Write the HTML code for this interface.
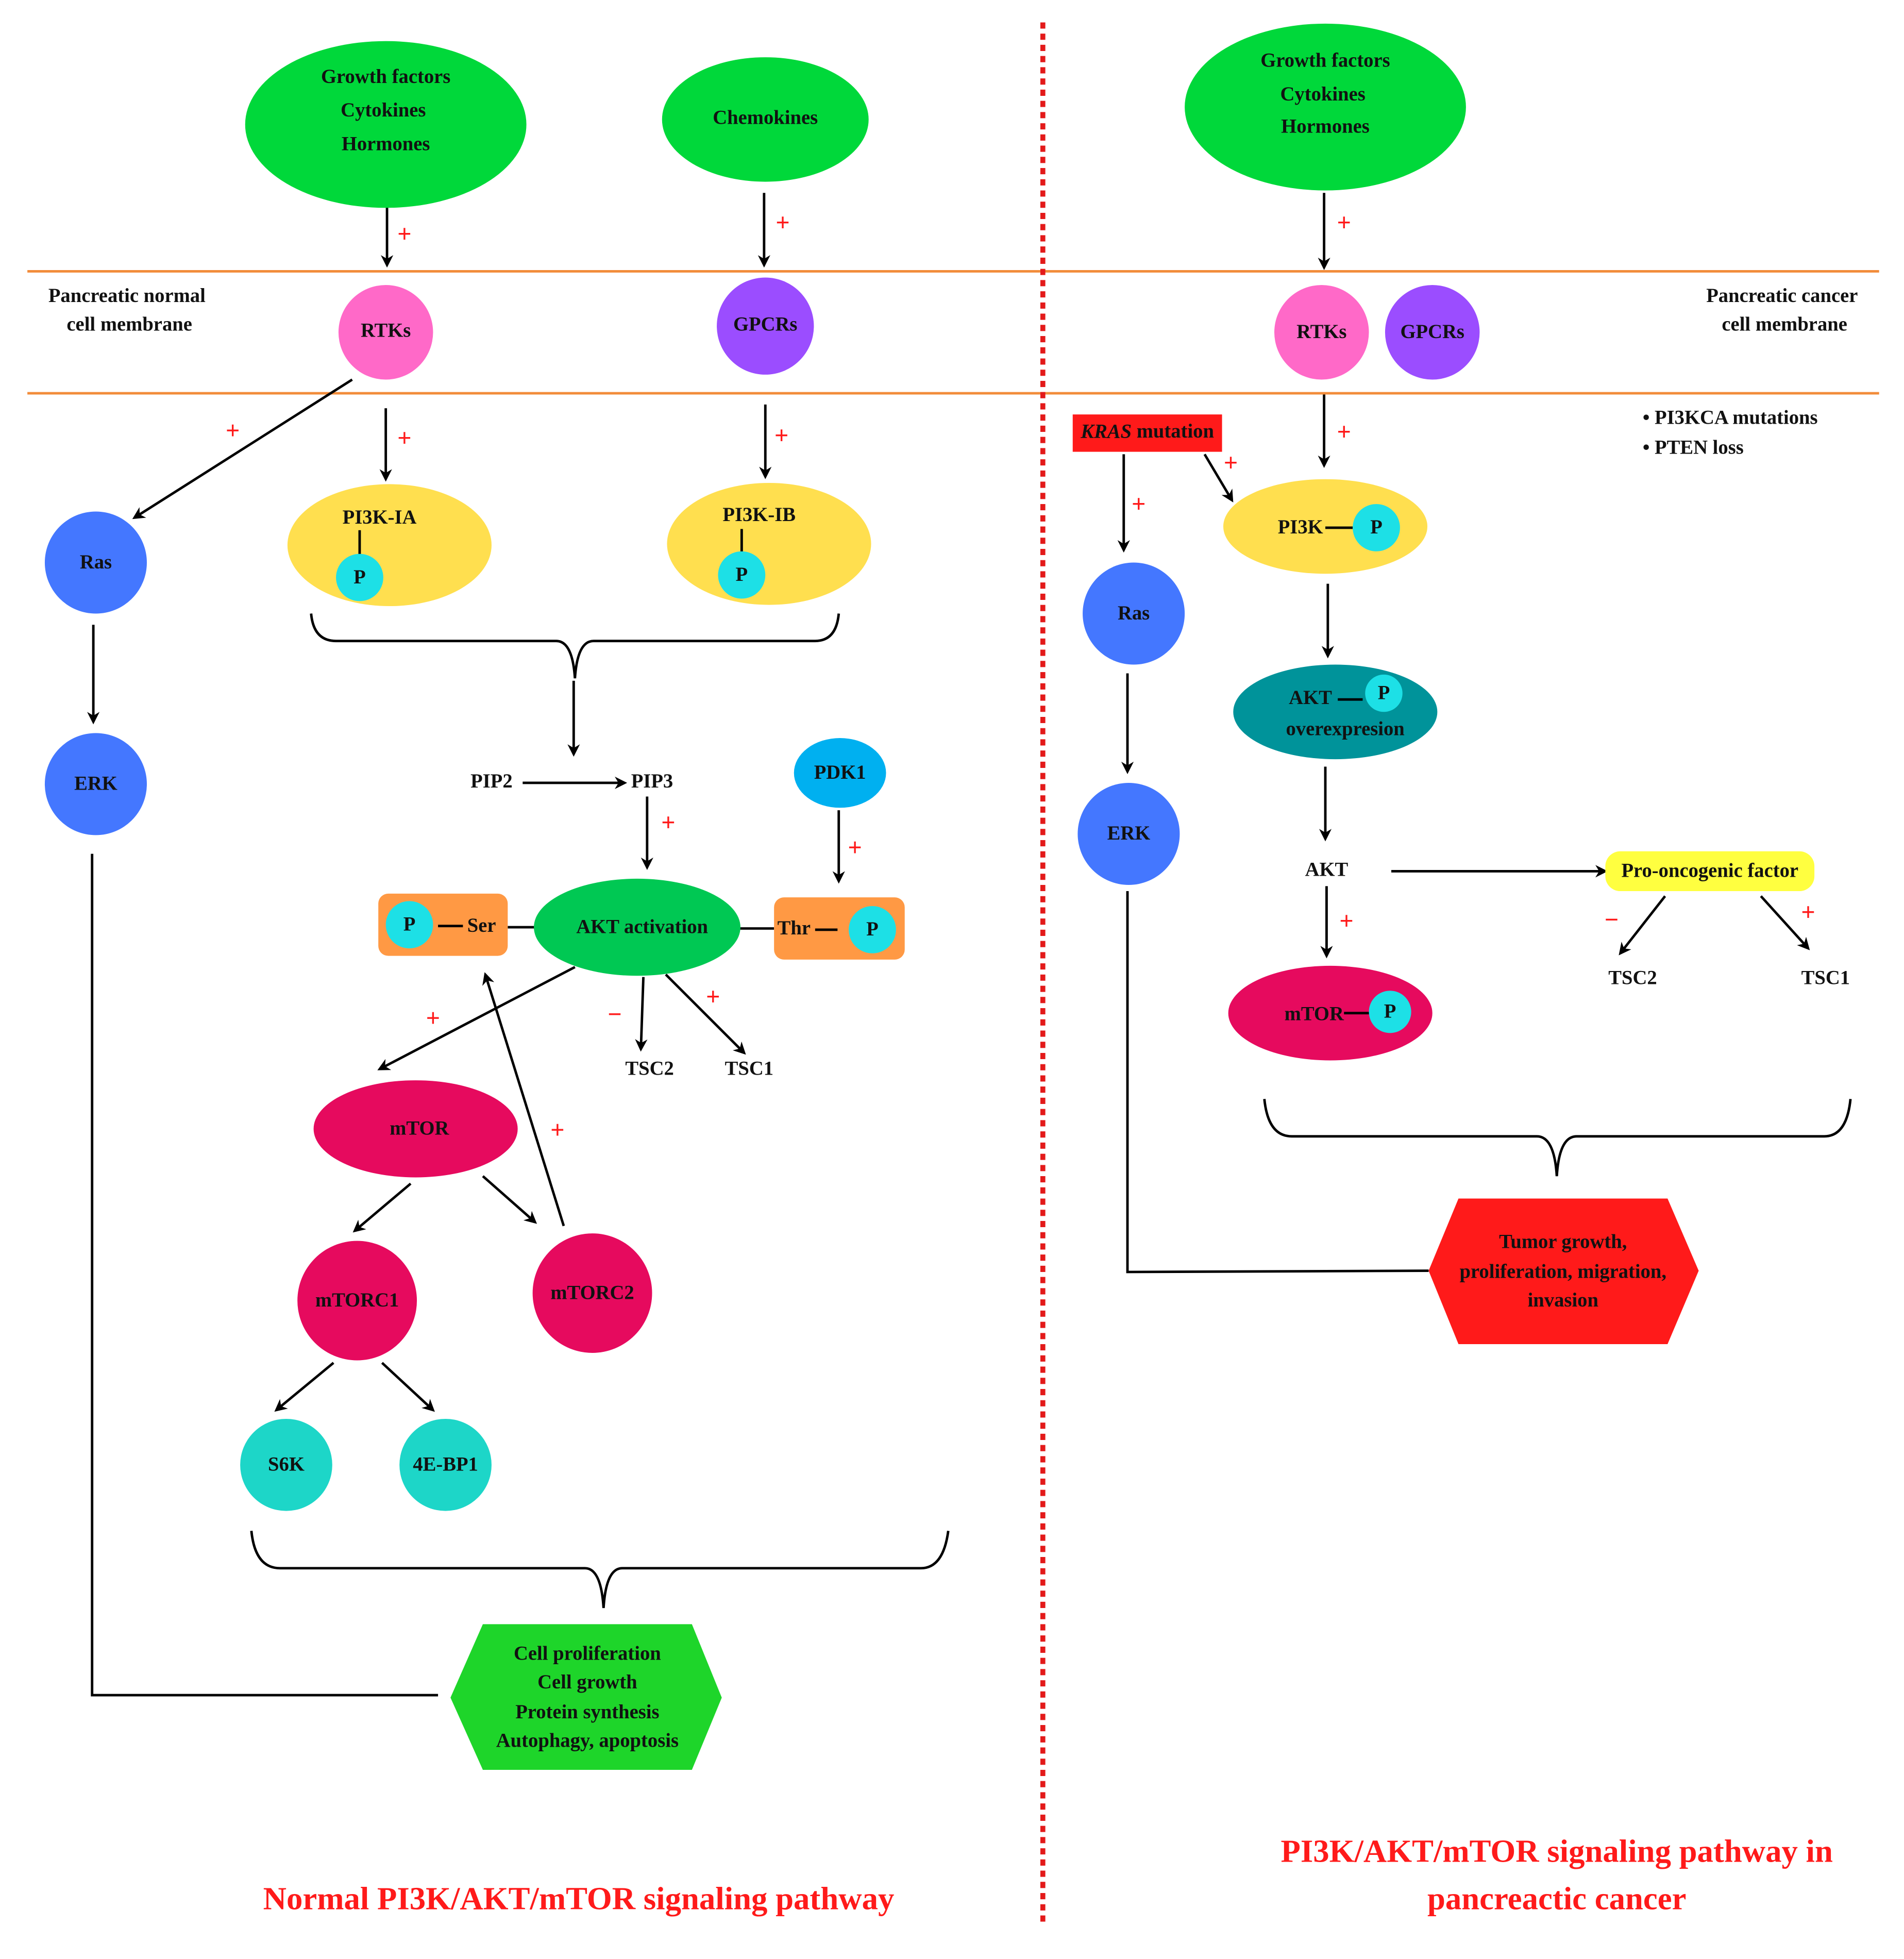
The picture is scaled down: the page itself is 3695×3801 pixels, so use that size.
<!DOCTYPE html>
<html><head><meta charset="utf-8"><style>
html,body{margin:0;padding:0;background:#fff;}
svg{display:block;}
text{font-family:"Liberation Serif",serif;font-weight:bold;font-size:16px;fill:#111;text-anchor:middle;dominant-baseline:middle;}
.r{fill:#ff1a1a;font-size:20px;}
.t{fill:#ff1a1a;font-size:26px;}
</style></head><body>
<svg width="3695" height="3801" viewBox="0 0 1530 1574" preserveAspectRatio="none" xmlns="http://www.w3.org/2000/svg">
<defs><marker id="a" markerWidth="10" markerHeight="10" refX="8" refY="5" orient="auto" markerUnits="userSpaceOnUse"><path d="M0,0 L10,5 L0,10 L3,5 z" fill="#000"/></marker></defs>
<rect width="1530" height="1574" fill="#fff"/>
<g stroke="#f28c3a" stroke-width="2"><line x1="22" y1="218" x2="1510" y2="218"/><line x1="22" y1="316" x2="1510" y2="316"/></g>
<line x1="838" y1="18" x2="838" y2="1545" stroke="#e31a1a" stroke-width="4" stroke-dasharray="5,4"/>

<g stroke="#000" stroke-width="2" fill="none" marker-end="url(#a)">
<line x1="311" y1="155" x2="311" y2="213"/><line x1="614" y1="155" x2="614" y2="213"/>
<line x1="283" y1="305" x2="108" y2="416"/><line x1="310" y1="328" x2="310" y2="385"/><line x1="615" y1="325" x2="615" y2="383"/>
<line x1="75" y1="502" x2="75" y2="580"/><line x1="461" y1="547" x2="461" y2="606"/>
<line x1="420" y1="629" x2="502" y2="629"/><line x1="674" y1="651" x2="674" y2="708"/><line x1="520" y1="640" x2="520" y2="697"/>
<line x1="462" y1="777" x2="305" y2="859"/><line x1="517" y1="785" x2="515" y2="843"/><line x1="535" y1="783" x2="598" y2="846"/>
<line x1="330" y1="951" x2="285" y2="989"/><line x1="388" y1="945" x2="430" y2="982"/><line x1="453" y1="985" x2="390" y2="783"/>
<line x1="268" y1="1095" x2="222" y2="1133"/><line x1="307" y1="1095" x2="348" y2="1133"/>
<line x1="1064" y1="155" x2="1064" y2="215"/><line x1="1064" y1="317" x2="1064" y2="374"/>
<line x1="903" y1="365" x2="903" y2="442"/><line x1="968" y1="365" x2="990" y2="402"/>
<line x1="906" y1="541" x2="906" y2="620"/><line x1="1067" y1="469" x2="1067" y2="527"/><line x1="1065" y1="616" x2="1065" y2="674"/>
<line x1="1118" y1="700" x2="1290" y2="700"/><line x1="1338" y1="720" x2="1302" y2="766"/><line x1="1415" y1="720" x2="1453" y2="762"/>
<line x1="1066" y1="712" x2="1066" y2="768"/>
</g>
<g stroke="#000" stroke-width="2" fill="none">
<path d="M250,493 Q252,515 270,515 L447,515 Q460,515 462,545 Q464,515 477,515 L655,515 Q672,515 674,493"/>
<path d="M202,1230 Q205,1260 225,1260 L470,1260 Q483,1260 485,1292 Q487,1260 500,1260 L740,1260 Q758,1260 762,1230"/>
<path d="M1016,883 Q1019,913 1038,913 L1235,913 Q1249,913 1251,945 Q1253,913 1267,913 L1466,913 Q1484,913 1487,883"/>
<polyline points="74,686 74,1362 352,1362"/>
<polyline points="906,716 906,1022 1148,1021"/>
<line x1="408" y1="745" x2="430" y2="745"/><line x1="594" y1="746" x2="622" y2="746"/>
</g>

<ellipse cx="310" cy="100" rx="113" ry="67" fill="#00d83a"/>
<text x="310" y="63">Growth factors</text><text x="308" y="90">Cytokines</text><text x="310" y="117">Hormones</text>
<ellipse cx="615" cy="96" rx="83" ry="50" fill="#00d83a"/><text x="615" y="96">Chemokines</text>
<circle cx="310" cy="267" r="38" fill="#ff69c8"/><text x="310" y="267">RTKs</text>
<circle cx="615" cy="262" r="39" fill="#9b4dff"/><text x="615" y="262">GPCRs</text>
<text x="102" y="239">Pancreatic normal</text><text x="104" y="262">cell membrane</text>
<ellipse cx="313" cy="438" rx="82" ry="49" fill="#ffdf4f"/><text x="305" y="417">PI3K-IA</text>
<line x1="289" y1="426" x2="289" y2="446" stroke="#000" stroke-width="2"/><circle cx="289" cy="464" r="19" fill="#1de0e6"/><text x="289" y="465">P</text>
<ellipse cx="618" cy="437" rx="82" ry="49" fill="#ffdf4f"/><text x="610" y="415">PI3K-IB</text>
<line x1="596" y1="425" x2="596" y2="444" stroke="#000" stroke-width="2"/><circle cx="596" cy="462" r="19" fill="#1de0e6"/><text x="596" y="463">P</text>
<circle cx="77" cy="452" r="41" fill="#4477ff"/><text x="77" y="453">Ras</text>
<circle cx="77" cy="630" r="41" fill="#4477ff"/><text x="77" y="631">ERK</text>
<text x="395" y="629">PIP2</text><text x="524" y="629">PIP3</text>
<ellipse cx="675" cy="621" rx="37" ry="28" fill="#00b0f0"/><text x="675" y="622">PDK1</text>
<ellipse cx="512" cy="745" rx="83" ry="39" fill="#00c853"/><text x="516" y="746">AKT activation</text>
<rect x="304" y="718" width="104" height="50" rx="8" fill="#ff9944"/><circle cx="329" cy="743" r="19" fill="#1de0e6"/><text x="329" y="744">P</text>
<line x1="352" y1="744" x2="372" y2="744" stroke="#000" stroke-width="2"/><text x="387" y="745">Ser</text>
<rect x="622" y="721" width="105" height="50" rx="8" fill="#ff9944"/><text x="638" y="747">Thr</text>
<line x1="655" y1="747" x2="673" y2="747" stroke="#000" stroke-width="2"/><circle cx="701" cy="747" r="19" fill="#1de0e6"/><text x="701" y="748">P</text>
<text x="522" y="860">TSC2</text><text x="602" y="860">TSC1</text>
<ellipse cx="334" cy="907" rx="82" ry="39" fill="#e60a5e"/><text x="337" y="908">mTOR</text>
<circle cx="287" cy="1045" r="48" fill="#e60a5e"/><text x="287" y="1046">mTORC1</text>
<circle cx="476" cy="1039" r="48" fill="#e60a5e"/><text x="476" y="1040">mTORC2</text>
<circle cx="230" cy="1177" r="37" fill="#1dd6c8"/><text x="230" y="1178">S6K</text>
<circle cx="358" cy="1177" r="37" fill="#1dd6c8"/><text x="358" y="1178">4E-BP1</text>
<polygon points="362,1364 388,1305 556,1305 580,1364 556,1422 388,1422" fill="#1ed52a"/>
<text x="472" y="1330">Cell proliferation</text><text x="472" y="1353">Cell growth</text><text x="472" y="1377">Protein synthesis</text><text x="472" y="1400">Autophagy, apoptosis</text>
<text class="t" x="465" y="1528">Normal PI3K/AKT/mTOR signaling pathway</text>

<ellipse cx="1065" cy="86" rx="113" ry="67" fill="#00d83a"/>
<text x="1065" y="50">Growth factors</text><text x="1063" y="77">Cytokines</text><text x="1065" y="103">Hormones</text>
<circle cx="1062" cy="267" r="38" fill="#ff69c8"/><text x="1062" y="268">RTKs</text>
<circle cx="1151" cy="267" r="38" fill="#9b4dff"/><text x="1151" y="268">GPCRs</text>
<text x="1432" y="239">Pancreatic cancer</text><text x="1434" y="262">cell membrane</text>
<text x="1320" y="337" style="text-anchor:start">• PI3KCA mutations</text><text x="1320" y="361" style="text-anchor:start">• PTEN loss</text>
<rect x="862" y="333" width="120" height="30" fill="#ff1a1a"/>
<text x="922" y="348"><tspan font-style="italic">KRAS</tspan> mutation</text>
<ellipse cx="1065" cy="423" rx="82" ry="38" fill="#ffdf4f"/><text x="1045" y="425">PI3K</text>
<line x1="1065" y1="424" x2="1087" y2="424" stroke="#000" stroke-width="2"/><circle cx="1106" cy="424" r="19" fill="#1de0e6"/><text x="1106" y="425">P</text>
<circle cx="911" cy="493" r="41" fill="#4477ff"/><text x="911" y="494">Ras</text>
<circle cx="907" cy="670" r="41" fill="#4477ff"/><text x="907" y="671">ERK</text>
<ellipse cx="1073" cy="572" rx="82" ry="38" fill="#00939a"/><text x="1053" y="562">AKT</text>
<line x1="1075" y1="562" x2="1095" y2="562" stroke="#000" stroke-width="2"/><circle cx="1112" cy="557" r="15" fill="#1de0e6"/><text x="1112" y="558">P</text>
<text x="1081" y="587">overexpresion</text>
<text x="1066" y="700">AKT</text>
<rect x="1290" y="684" width="168" height="32" rx="12" fill="#ffff40"/><text x="1374" y="701">Pro-oncogenic factor</text>
<text x="1312" y="787">TSC2</text><text x="1467" y="787">TSC1</text>
<ellipse cx="1069" cy="814" rx="82" ry="38" fill="#e60a5e"/><text x="1056" y="816">mTOR</text>
<line x1="1080" y1="814" x2="1101" y2="814" stroke="#000" stroke-width="2"/><circle cx="1117" cy="813" r="17" fill="#1de0e6"/><text x="1117" y="814">P</text>
<polygon points="1148,1021 1172,963 1340,963 1365,1021 1340,1080 1172,1080" fill="#ff1a1a"/>
<text x="1256" y="999">Tumor growth,</text><text x="1256" y="1023">proliferation, migration,</text><text x="1256" y="1046">invasion</text>
<text class="t" x="1251" y="1490">PI3K/AKT/mTOR signaling pathway in</text>
<text class="t" x="1251" y="1528">pancreactic cancer</text>

<g>
<text class="r" x="325" y="190">+</text><text class="r" x="629" y="181">+</text><text class="r" x="187" y="348">+</text>
<text class="r" x="325" y="354">+</text><text class="r" x="628" y="352">+</text><text class="r" x="687" y="683">+</text>
<text class="r" x="537" y="663">+</text><text class="r" x="348" y="820">+</text><text class="r" x="494" y="817">−</text>
<text class="r" x="573" y="803">+</text><text class="r" x="448" y="910">+</text>
<text class="r" x="1080" y="181">+</text><text class="r" x="1080" y="349">+</text><text class="r" x="915" y="407">+</text>
<text class="r" x="989" y="374">+</text><text class="r" x="1295" y="741">−</text><text class="r" x="1453" y="735">+</text>
<text class="r" x="1082" y="742">+</text>
</g>
</svg>
</body></html>
